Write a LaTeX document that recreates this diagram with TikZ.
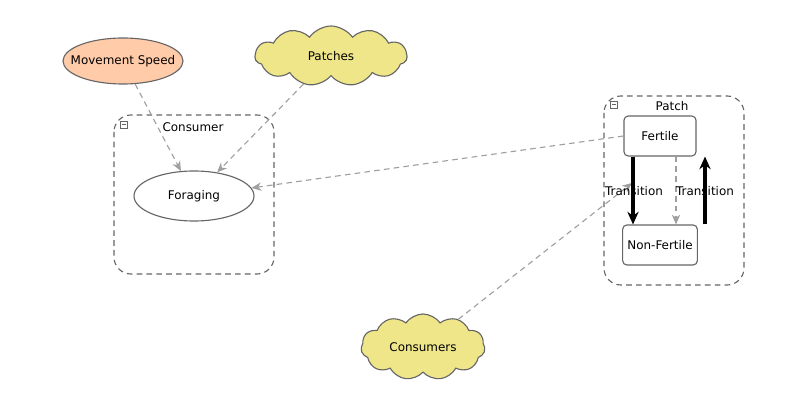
\documentclass[tikz,border=0pt]{standalone}
\usepackage{fontspec}
\setmainfont{DejaVu Sans}
\usetikzlibrary{shapes.geometric,shapes.symbols,arrows.meta}
\definecolor{peach}{HTML}{FFCBA8}
\definecolor{khaki}{HTML}{EFE68A}
\definecolor{edge}{HTML}{666666}
\tikzset{
  lbl/.style={font=\fontsize{8.5}{10}\selectfont},
  stock/.style={ellipse, draw=edge, thick, lbl, inner sep=0pt, minimum width=3cm, minimum height=1.2cm},
  src/.style={cloud, cloud puffs=11, cloud puff arc=110, aspect=2.2, draw=edge, thick, fill=khaki, lbl},
  state/.style={rectangle, rounded corners=3pt, draw=edge, thick, lbl, minimum width=1.8cm, minimum height=1cm},
  group/.style={draw=edge, thick, dash pattern=on 4pt off 3pt, rounded corners=12pt},
  link/.style={-{Stealth[length=7pt,width=6pt]}, draw=gray!75, thick, dash pattern=on 4pt off 3pt},
  trans/.style={-{Stealth[length=9pt,width=8pt]}, line width=2.5pt}
}
\begin{document}
\begin{tikzpicture}[x=0.025cm,y=-0.025cm]
    \useasboundingbox (0,0) rectangle (800,406);

    % groups
    \draw[group] (114,115) rectangle (274,274);
    \node[lbl] (consumerTitle) at (193,127) {Consumer};
    \draw[edge] (120,121) rectangle (127,128) (121.5,124.5) -- (125.5,124.5);
    \draw[group] (604,96) rectangle (744,285);
    \node[lbl] (patchTitle) at (672,106) {Patch};
    \draw[edge] (610,101) rectangle (617,108) (611.5,104.5) -- (615.5,104.5);

    % nodes
    \node[stock, fill=peach, inner xsep=-8pt, minimum height=1.15cm] (speed) at (123,61) {Movement Speed};
    \node[src, minimum width=3.8cm, minimum height=1.5cm] (patches) at (331,56) {Patches};
    \node[stock, fill=white, minimum height=1.25cm] (foraging) at (194,196) {Foraging};
    \node[state] (fertile) at (660,136) {Fertile};
    \node[state] (nonfertile) at (660,245) {Non-Fertile};
    \node[src, minimum width=3.1cm, minimum height=1.65cm] (consumers) at (423,347) {Consumers};
    \coordinate (hit) at (632,183);

    % connectors
    \draw[link] (speed) -- (foraging);
    \draw[link] (patches) -- (foraging);
    \draw[link] (fertile.west) -- (foraging);
    \draw[link] (consumers) -- (hit);
    \draw[link] (fertile.south -| 676,0) -- (nonfertile.north -| 676,0);
    \draw[trans] (fertile.south -| 633,0) -- (nonfertile.north -| 633,0);
    \draw[trans] (nonfertile.north -| 705,0) -- (fertile.south -| 705,0);
    \node[lbl, inner sep=0.5pt] (t1) at (634,191) {Transition};
    \node[lbl, inner sep=0.5pt] (t2) at (705,191) {Transition};
\end{tikzpicture}
\end{document}
